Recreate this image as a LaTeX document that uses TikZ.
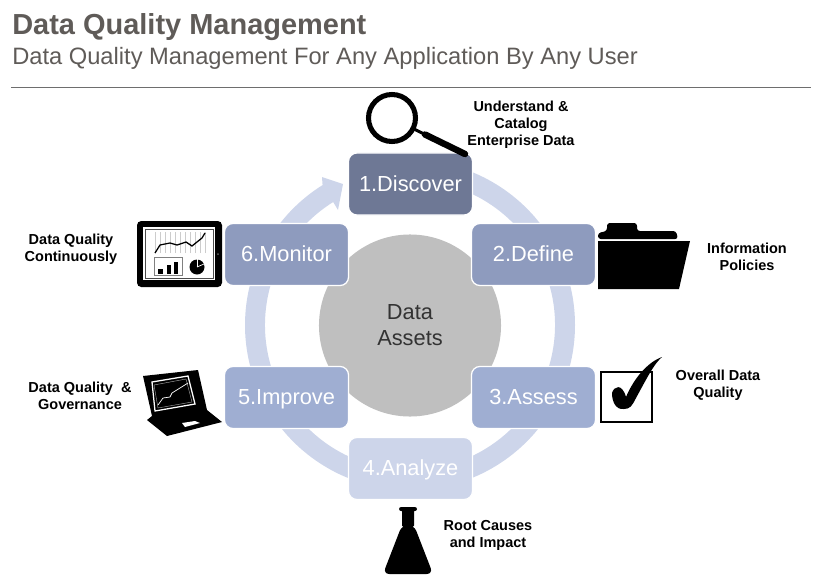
\documentclass[tikz,border=0pt]{standalone}
\usepackage{fontspec}
\setmainfont{Liberation Sans}
\definecolor{ringblue}{HTML}{CDD5EA}
\definecolor{hubgray}{HTML}{BFBFBF}
\definecolor{titlegray}{HTML}{5F5B58}
\definecolor{rulegray}{HTML}{6E6E6E}
\definecolor{discoverblue}{HTML}{6E7895}
\definecolor{defineblue}{HTML}{8E9BBE}
\definecolor{assessblue}{HTML}{9FAED2}
\definecolor{analyzeblue}{HTML}{CDD5EA}
\definecolor{improveblue}{HTML}{9FAED2}
\definecolor{monitorblue}{HTML}{8E9BBE}
\tikzset{
  stagebox/.style={draw=white,line width=.9pt,rounded corners=6pt,minimum width=3.1cm,minimum height=1.55cm,
    text=white,font=\fontsize{15.5}{18}\selectfont,inner sep=0pt,text height=13.6pt,text depth=3.5pt},
  notetext/.style={align=center,font=\fontsize{10.3}{12.1}\selectfont\bfseries,inner sep=0pt}
}
\begin{document}
\begin{tikzpicture}[x=.025cm,y=-.025cm]
   \useasboundingbox (0,0) rectangle (829,586);
   % heading
   \node[anchor=base west,inner sep=0pt,text=titlegray,font=\fontsize{20.6}{23}\selectfont\bfseries] (heading) at (12,34) {Data Quality Management};
   \node[anchor=base west,inner sep=0pt,text=titlegray,font=\fontsize{16.85}{19}\selectfont] (subheading) at (12,64) {Data Quality Management For Any Application By Any User};
   \coordinate (ruleleft) at (11,87);
   \coordinate (ruleright) at (811,87);
   \draw[rulegray,line width=.7pt] (ruleleft) -- (ruleright);

   % ring with its arrow head
   \coordinate (hub) at (410,325);
   \fill[ringblue] (hub) ++(-90:165) arc (-90:238:165) -- (322,177) -- (343,184) -- (338,210) -- ([shift={(238:145)}]hub) arc (238:-90:145) -- cycle;
   \node[circle,fill=hubgray,minimum size=4.55cm,inner sep=0pt,align=center,font=\fontsize{15.5}{18.5}\selectfont,text=black!80] (assets) at (410,325.5) {Data\\Assets};

   % stages
   \node[stagebox,fill=discoverblue] (discover) at (410.5,184) {1.Discover};
   \node[stagebox,fill=defineblue] (define) at (533.5,254.5) {2.Define};
   \node[stagebox,fill=assessblue] (assess) at (533.5,397.5) {3.Assess};
   \node[stagebox,fill=analyzeblue] (analyze) at (410.5,468.5) {4.Analyze};
   \node[stagebox,fill=improveblue] (improve) at (286.5,397.5) {5.Improve};
   \node[stagebox,fill=monitorblue] (monitor) at (286.5,254.5) {6.Monitor};

   % notes
   \node[notetext] (notediscover) at (521,125) {Understand \&\\Catalog\\Enterprise Data};
   \node[notetext] (notedefine) at (747,257) {Information\\Policies};
   \node[notetext] (noteassess) at (718,385) {Overall Data\\Quality};
   \node[notetext] (noteanalyze) at (488,535) {Root Causes\\and Impact};
   \node[notetext] (noteimprove) at (80,396) {Data Quality\ \ \&\\Governance};
   \node[notetext] (notemonitor) at (71,249) {Data Quality\\Continuously};

   % magnifier
   \draw[line width=3.6pt] (392,118) circle (23.5);
   \draw[line width=2.2pt] (413,128.5) -- (425,134.5);
   \draw[line width=4.6pt,line cap=round] (425,134.5) -- (465,154);

   % folder
   \fill[rounded corners=2pt] (598,239) -- (598,233) -- (607,231) -- (607,223) -- (637,223) -- (637,231) -- (676,231) -- (678,239) -- cycle;
   \fill (598,241) -- (690,241) -- (679,289) -- (598,289) -- cycle;

   % check box
   \draw[line width=1.6pt] (601,372) rectangle (652,422);
   \fill (612,393) .. controls (614,386) and (622,383) .. (626,397) .. controls (634,378) and (648,362) .. (662,357) .. controls (654,364) and (648,376) .. (636,398) .. controls (632,406) and (630,409) .. (624,409) .. controls (616,410) and (612,402) .. (612,393) -- cycle;

   % tablet
   \fill[rounded corners=3pt] (137,221) rectangle (222,287);
   \fill[white] (143,227) rectangle (215,280);
   \draw[line width=.6pt,black!70] (145.5,229) rectangle (213,278);
   \draw[gray!40,line width=.2pt,step=5] (155,232) grid (205,253);
   \draw[line width=.9pt] (155,253) -- (160,245) -- (170,243) -- (177,245) -- (186,242) -- (192,246) -- (202,238) -- (205,233);
   \draw[gray,line width=.3pt] (154,257) rectangle (182,275);
   \fill (158,269) rectangle (163,274);
   \fill (167,265) rectangle (171,274);
   \fill (174,262) rectangle (178,274);
   \fill (197,267) circle (7.5);
   \draw[white,line width=.5pt] (197,267) -- (197,259);
   \draw[white,line width=.5pt] (197,267) -- (204,264);
   \fill[black!60] (218,254) circle (1);

   % laptop
   \fill (143,376) -- (198,370) -- (207,410) -- (222,422) -- (167,436) -- (147,420) -- (152,416) -- cycle;
   \draw[white,line width=.9pt] (152,382) -- (188,376) -- (195,404) -- (155,411) -- cycle;
   \draw[black!35,line width=.3pt] (154,385) -- (186,379) -- (192,402) -- (158,408) -- cycle;
   \draw[white,line width=.5pt] (158,405) -- (163,398) -- (170,397) -- (172,393) -- (180,388) -- (188,383);
   \fill[white] (182,423) -- (195,421) -- (200,423) -- (185,427) -- cycle;

   % flask
   \fill[rounded corners=1.5pt] (399,507) rectangle (417,511);
   \fill[rounded corners=1pt] (402,509) rectangle (414,527);
   \fill[rounded corners=4.5pt] (414,525) -- (433,574) -- (383,574) -- (402,525) -- cycle;
\end{tikzpicture}
\end{document}
